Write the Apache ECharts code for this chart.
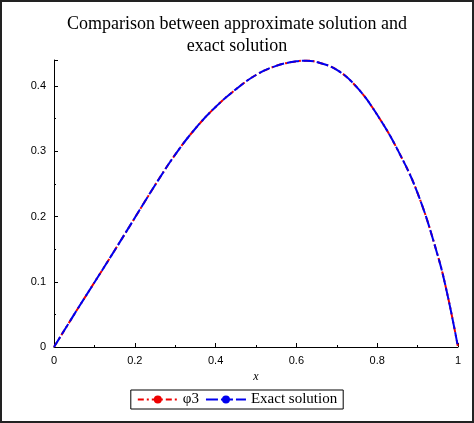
<!DOCTYPE html>
<html><head><meta charset="utf-8">
<script src="https://cdn.jsdelivr.net/npm/echarts@6/dist/echarts.min.js"></script>
<style>html,body{margin:0;padding:0;background:#fff}#c{width:474px;height:423px;box-sizing:border-box;border:2px solid #222}</style>
</head><body><div id="c"></div>
<script>
const xs = [0,0.05,0.1,0.15,0.2,0.25,0.3,0.35,0.4,0.45,0.5,0.55,0.6,0.625,0.65,0.7,0.75,0.8,0.85,0.9,0.95,0.975,1];
const phi3 = [0,0.050,0.099,0.148,0.198,0.248,0.295,0.335,0.368,0.395,0.417,0.431,0.438,0.439,0.437,0.425,0.398,0.356,0.303,0.236,0.140,0.077,0];
const exact = [0,0.050,0.099,0.148,0.198,0.248,0.295,0.335,0.368,0.395,0.417,0.431,0.438,0.439,0.437,0.425,0.398,0.356,0.303,0.236,0.140,0.077,0];
const yTicks = [0,0.1,0.2,0.3,0.4];
const toPairs = ys => xs.map((x,i)=>[x,ys[i]]);
const ch = echarts.init(document.getElementById('c'));
const serif = 'Liberation Serif';
ch.setOption({
  animation:false,
  title:{text:'Comparison between approximate solution and\nexact solution',left:'center',top:6,
    textStyle:{fontFamily:serif,fontSize:18,fontWeight:'normal',color:'#000',lineHeight:22}},
  grid:{left:52,right:14,top:58,bottom:74},
  xAxis:{type:'value',min:0,max:1,interval:0.2,name:'x',nameLocation:'middle',nameGap:20,
    nameTextStyle:{fontFamily:serif,fontStyle:'italic',fontSize:12,color:'#000'},
    axisLine:{lineStyle:{color:'#000'}},axisTick:{inside:true,length:4,lineStyle:{color:'#000'}},
    minorTick:{show:true,splitNumber:2,length:2,lineStyle:{color:'#000'}},
    axisLabel:{fontFamily:'Arial',fontSize:11,color:'#000',formatter:v=>String(v)},splitLine:{show:false}},
  yAxis:{type:'value',min:0,max:0.44,interval:0.1,
    axisLine:{show:true,lineStyle:{color:'#000'}},axisTick:{show:true,inside:true,length:4,lineStyle:{color:'#000'}},
    minorTick:{show:true,splitNumber:2,length:2,lineStyle:{color:'#000'}},
    axisLabel:{fontFamily:'Arial',fontSize:11,color:'#000',showMaxLabel:false,
      formatter:v=>yTicks.some(t=>Math.abs(t-v)<1e-9)?String(v):''},splitLine:{show:false}},
  legend:{bottom:12,left:'center',itemGap:6,itemWidth:40,itemHeight:10,borderColor:'#000',borderWidth:1,padding:[2,6],borderRadius:0,
    textStyle:{fontFamily:serif,fontSize:15,color:'#000'},
    data:['φ3','Exact solution']},
  series:[
    {name:'φ3',type:'line',smooth:0.4,showSymbol:false,symbol:'none',data:toPairs(phi3),
      lineStyle:{color:'#e00',width:2,type:[6,3,2,3]},itemStyle:{color:'#e00'}},
    {name:'Exact solution',type:'line',smooth:0.4,showSymbol:false,symbol:'none',data:toPairs(exact),
      lineStyle:{color:'#00e',width:2,type:[12,3]},itemStyle:{color:'#00e'}}
  ]
});
</script></body></html>
